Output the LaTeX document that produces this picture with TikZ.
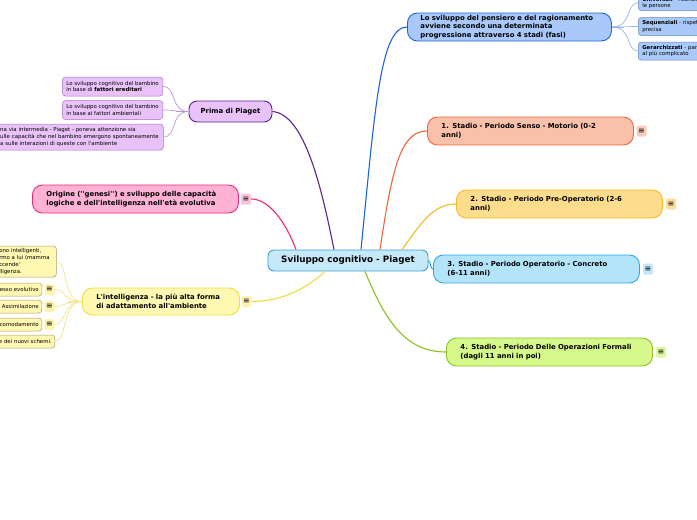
\documentclass[tikz,border=0pt]{standalone}
\usepackage{fontspec}
\setmainfont{DejaVu Sans}[Ligatures=TeXOff]
\definecolor{cenfill}{HTML}{C6E9FA}\definecolor{cenline}{HTML}{3BA0D8}
\definecolor{bfill}{HTML}{A9C9FA}\definecolor{bline}{HTML}{1E64DC}\definecolor{bsub}{HTML}{6A86B8}\definecolor{blink}{HTML}{94B4E4}
\definecolor{ofill}{HTML}{F9C1AA}\definecolor{oline}{HTML}{F2643A}\definecolor{oicon}{HTML}{F7CDB9}
\definecolor{yofill}{HTML}{FDDC8C}\definecolor{yoline}{HTML}{F8B828}\definecolor{yoicon}{HTML}{FBDE9E}
\definecolor{lbfill}{HTML}{B4E4FA}\definecolor{lbline}{HTML}{2CA8E8}\definecolor{lbicon}{HTML}{C2E8FA}
\definecolor{gfill}{HTML}{D6F88A}\definecolor{gline}{HTML}{8CC020}\definecolor{gicon}{HTML}{DDF7A0}
\definecolor{pfill}{HTML}{E9C2FA}\definecolor{pline}{HTML}{5E2188}\definecolor{psub}{HTML}{A676BE}\definecolor{plink}{HTML}{B898C8}
\definecolor{kfill}{HTML}{FFB2D4}\definecolor{kline}{HTML}{F0287A}\definecolor{kicon}{HTML}{FCC4DC}
\definecolor{yfill}{HTML}{FFF8B2}\definecolor{yline}{HTML}{F0DC40}\definecolor{ysub}{HTML}{A8986A}\definecolor{ylink}{HTML}{F2E48A}\definecolor{yicon}{HTML}{FFF3B0}
\begin{document}
\begin{tikzpicture}[x=1pt,y=-1pt,
  bignode/.style={draw, line width=0.9pt, rounded corners=10pt, anchor=west, align=left,
    font=\fontsize{6.9}{8.6}\selectfont\bfseries, inner ysep=0pt, inner xsep=14pt, text width=178pt, minimum height=28pt},
  subnode/.style={draw, line width=0.5pt, rounded corners=3pt, align=left,
    font=\fontsize{5.4}{6.8}\selectfont, inner xsep=4pt, inner ysep=0pt},
  iconnode/.style={rounded corners=1.5pt, minimum width=10pt, minimum height=11pt, inner sep=0pt,
    font=\fontsize{8}{8}\selectfont},
  link/.style={line width=1.1pt},
  sublink/.style={line width=0.7pt}]
\useasboundingbox (0,0) rectangle (697,520);
\clip (0,0) rectangle (697,520);

% central
\node[draw=cenline, fill=cenfill, line width=0.9pt, rounded corners=6pt, minimum width=160pt, minimum height=21pt,
  inner sep=0pt, font=\fontsize{8.8}{10}\selectfont\bfseries] (c) at (348,260.5) {Sviluppo cognitivo - Piaget};

% right side
\node[bignode, draw=bline, fill=bfill, inner xsep=13pt] (t) at (407,27)
  {Lo sviluppo del pensiero e del ragionamento\\avviene secondo una determinata\\progressione attraverso 4 stadi (fasi)};
\node[bignode, draw=oline, fill=ofill] (s1) at (427,131) {1. Stadio - Periodo Senso - Motorio (0-2\\anni)};
\node[bignode, draw=yoline, fill=yofill] (s2) at (456,204) {2. Stadio - Periodo Pre-Operatorio (2-6\\anni)};
\node[bignode, draw=lbline, fill=lbfill] (s3) at (433,269) {3. Stadio - Periodo Operatorio - Concreto\\(6-11 anni)};
\node[bignode, draw=gline, fill=gfill] (s4) at (446,352) {4. Stadio - Periodo Delle Operazioni Formali\\(dagli 11 anni in poi)};

\node[iconnode, fill=oicon] (i1) at (641.5,131) {≡};
\node[iconnode, fill=yoicon] (i2) at (671,204) {≡};
\node[iconnode, fill=lbicon] (i3) at (648,269) {≡};
\node[iconnode, fill=gicon] (i4) at (661,352) {≡};

% top right small
\node[subnode, draw=bsub, fill=bfill, anchor=west, text width=100pt, minimum height=15pt] (u1) at (638,3)
  {\textbf{Universali} - riconosc\\le persone};
\node[subnode, draw=bsub, fill=bfill, anchor=west, text width=100pt, minimum height=18pt] (u2) at (638,26.5)
  {\textbf{Sequenziali} - rispetta\\precisa};
\node[subnode, draw=bsub, fill=bfill, anchor=west, text width=100pt, minimum height=18pt] (u3) at (638,51)
  {\textbf{Gerarchizzati} - parte\\al più complicato};

% left side
\node[draw=pline, fill=pfill, line width=0.9pt, rounded corners=8pt, minimum width=83pt, minimum height=21pt,
  inner sep=0pt, font=\fontsize{6.9}{8.4}\selectfont\bfseries] (p) at (230.5,111.5) {Prima di Piaget};
\node[subnode, draw=psub, fill=pfill, anchor=east, minimum height=19pt] (p1) at (163,86.5)
  {Lo sviluppo cognitivo del bambino\\in base di \textbf{fattori ereditari}};
\node[subnode, draw=psub, fill=pfill, anchor=east, minimum height=19pt] (p2) at (163,110)
  {Lo sviluppo cognitivo del bambino\\in base ai fattori ambientali};
\node[subnode, draw=psub, fill=pfill, anchor=west, text width=159pt, minimum height=26pt] (p3) at (-4,137)
  {na via intermedia - Piaget - poneva attenzione sia\\ulle capacità che nel bambino emergono spontaneamente\\a sulle interazioni di queste con l'ambiente};

\node[bignode, draw=kline, fill=kfill] (o) at (32,199)
  {Origine (''genesi'') e sviluppo delle capacità\\logiche e dell'intelligenza nell'età evolutiva};
\node[iconnode, fill=kicon] (io) at (246,199) {≡};

\node[bignode, draw=yline, fill=yfill, text width=129pt, minimum height=27pt] (l) at (82,301.5)
  {L'intelligenza - la più alta forma\\di adattamento all'ambiente};
\node[iconnode, fill=yicon] (il) at (246.5,301.5) {≡};

\node[subnode, draw=ysub, fill=yfill, anchor=west, text width=54pt, minimum height=31pt, inner xsep=3pt] (y1) at (-4,261.5)
  {ono intelligenti,\\rmo a lui (mamma\\ccende'\\lligenza.};
\node[subnode, draw=ysub, fill=yfill, anchor=east, align=right, text width=80pt, minimum height=13pt, inner xsep=3pt] (y2) at (42,289.5)
  {esso evolutivo};
\node[subnode, draw=ysub, fill=yfill, anchor=east, align=right, text width=80pt, minimum height=13pt, inner xsep=3pt] (y3) at (42,306.5)
  {Assimilazione};
\node[subnode, draw=ysub, fill=yfill, anchor=east, align=right, text width=80pt, minimum height=13pt, inner xsep=3pt] (y4) at (42,324.5)
  {comodamento};
\node[subnode, draw=ysub, fill=yfill, anchor=east, align=right, text width=80pt, minimum height=13pt, inner xsep=3pt] (y5) at (55,341.5)
  {e dei nuovi schemi.};
\node[iconnode, fill=yicon] (iy2) at (49.5,289.5) {≡};
\node[iconnode, fill=yicon] (iy3) at (49.5,306.5) {≡};
\node[iconnode, fill=yicon] (iy4) at (49.5,324.5) {≡};

% main connectors
\draw[link, pline] ([xshift=-14pt]c.north) .. controls (322,190) and (305,114) .. (p.east);
\draw[link, bline] ([xshift=13pt]c.north) .. controls (375,110) and (380,27) .. (t.west);
\draw[link, oline] ([xshift=32pt]c.north) .. controls (392,170) and (400,131) .. (s1.west);
\draw[link, yoline] ([xshift=54pt]c.north) .. controls (420,225) and (432,204) .. (s2.west);
\draw[link, lbline] (c.east) .. controls (431,262) and (430,269) .. (s3.west);
\draw[link, gline] ([xshift=17pt]c.south) .. controls (385,320) and (405,352) .. (s4.west);
\draw[link, kline] ([xshift=-52pt]c.north) .. controls (285,220) and (268,199) .. (io.east);
\draw[link, yline] ([xshift=-23pt]c.south) .. controls (305,290) and (280,301.5) .. (il.east);

% sub connectors
\draw[sublink, blink] (t.east) -- (624,27);
\foreach \n in {u1,u2,u3}
  \draw[sublink, blink] (t.east) .. controls (632,27) and ([xshift=-12pt]\n.west) .. (\n.west);
\draw[sublink, plink] (p.west) -- (176,111.5);
\foreach \n in {p1,p2,p3}
  \draw[sublink, plink] (p.west) .. controls (170,111.5) and ([xshift=14pt]\n.east) .. (\n.east);
\draw[sublink, ylink] (l.west) -- (68,301.5);
\foreach \n in {y1,iy2,iy3,iy4,y5}
  \draw[sublink, ylink] (l.west) .. controls (62,301.5) and ([xshift=12pt]\n.east) .. (\n.east);
\end{tikzpicture}
\end{document}
